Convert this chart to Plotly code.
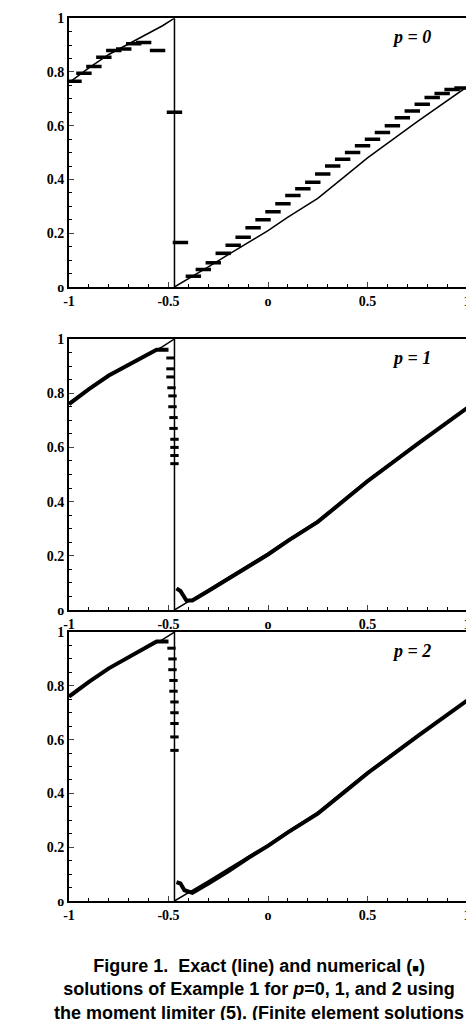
import plotly.graph_objects as go

# exact solution pieces
exact_left_x = [-1.0, -0.9, -0.8, -0.7, -0.6, -0.53, -0.47]
exact_left_y = [0.76, 0.815, 0.865, 0.905, 0.945, 0.972, 1.0]
exact_right_x = [-0.47, -0.4, -0.3, -0.2, -0.1, 0.0, 0.1, 0.25, 0.4, 0.5, 0.75, 1.0]
exact_right_y = [0.0, 0.03, 0.075, 0.12, 0.165, 0.21, 0.26, 0.33, 0.42, 0.48, 0.615, 0.745]
jump_x = [-0.47, -0.47]
jump_y = [0.0, 1.0]

# p=0 cell averages
p0_x = [-0.975, -0.925, -0.875, -0.825, -0.775, -0.725, -0.675, -0.625, -0.555,
        -0.47, -0.44,
        -0.375, -0.325, -0.275, -0.225, -0.175, -0.125, -0.075, -0.025, 0.025, 0.075,
        0.125, 0.175, 0.225, 0.275, 0.325, 0.375, 0.425, 0.475, 0.525, 0.575,
        0.625, 0.675, 0.725, 0.775, 0.825, 0.875, 0.925, 0.975]
p0_y = [0.765, 0.795, 0.82, 0.855, 0.88, 0.885, 0.905, 0.91, 0.88,
        0.65, 0.165,
        0.04, 0.065, 0.09, 0.125, 0.155, 0.185, 0.22, 0.25, 0.28, 0.31,
        0.34, 0.365, 0.39, 0.42, 0.45, 0.475, 0.5, 0.525, 0.55, 0.575,
        0.6, 0.63, 0.655, 0.68, 0.705, 0.72, 0.735, 0.74]

# p=1 numerical
p1_line_x = [-1.0, -0.9, -0.8, -0.7, -0.6, -0.56, -0.5]
p1_line_y = [0.76, 0.815, 0.865, 0.905, 0.945, 0.96, 0.96]
p1_dot_x = [-0.49, -0.49, -0.49, -0.485, -0.48, -0.48, -0.475, -0.475, -0.47, -0.47, -0.47, -0.47]
p1_dot_y = [0.93, 0.89, 0.86, 0.82, 0.79, 0.75, 0.71, 0.67, 0.63, 0.60, 0.57, 0.54]
p1_right_x = [-0.46, -0.44, -0.41, -0.38, -0.3, -0.2, -0.1, 0.0, 0.1, 0.25, 0.4, 0.5, 0.75, 1.0]
p1_right_y = [0.08, 0.07, 0.035, 0.035, 0.07, 0.115, 0.16, 0.205, 0.255, 0.325, 0.415, 0.475, 0.612, 0.745]

# p=2 numerical
p2_line_x = [-1.0, -0.9, -0.8, -0.7, -0.6, -0.56, -0.5]
p2_line_y = [0.76, 0.815, 0.865, 0.905, 0.945, 0.965, 0.965]
p2_dot_x = [-0.485, -0.48, -0.48, -0.475, -0.475, -0.47, -0.47, -0.47, -0.47, -0.47]
p2_dot_y = [0.94, 0.90, 0.86, 0.82, 0.78, 0.74, 0.70, 0.66, 0.61, 0.56]
p2_right_x = [-0.46, -0.44, -0.42, -0.38, -0.3, -0.2, -0.1, 0.0, 0.1, 0.25, 0.4, 0.5, 0.75, 1.0]
p2_right_y = [0.07, 0.065, 0.04, 0.03, 0.065, 0.11, 0.16, 0.205, 0.255, 0.325, 0.415, 0.475, 0.612, 0.745]

xticks = [-1, -0.5, 0, 0.5, 1]
xtick_text = ["-1", "-0.5", "o", "0.5", "1"]
yticks = [0, 0.2, 0.4, 0.6, 0.8, 1]
ytick_text = ["o", "0.2", "0.4", "0.6", "0.8", "1"]
labels = ["p = 0", "p = 1", "p = 2"]

domains = [[0.7265, 0.990], [0.4098, 0.6755], [0.1245, 0.3882]]
fig = go.Figure()
serif = dict(family="Liberation Serif", size=14, color="black", weight="bold")


def exact(ax):
    for xs, ys in [(exact_left_x, exact_left_y), (exact_right_x, exact_right_y), (jump_x, jump_y)]:
        fig.add_trace(go.Scatter(x=xs, y=ys, mode="lines", line=dict(color="black", width=1.5),
                                 xaxis="x" + ax, yaxis="y" + ax, showlegend=False))


for i in range(3):
    ax = "" if i == 0 else str(i + 1)
    exact(ax)

fig.add_trace(go.Scatter(x=p0_x, y=p0_y, mode="markers", xaxis="x", yaxis="y",
                         marker=dict(symbol="line-ew-open", size=11, color="black",
                                     line=dict(width=3.5, color="black")),
                         showlegend=False))

for ax, lx, ly, dx, dy, rx, ry in [("2", p1_line_x, p1_line_y, p1_dot_x, p1_dot_y, p1_right_x, p1_right_y),
                                   ("3", p2_line_x, p2_line_y, p2_dot_x, p2_dot_y, p2_right_x, p2_right_y)]:
    fig.add_trace(go.Scatter(x=lx, y=ly, mode="lines", line=dict(color="black", width=4),
                             xaxis="x" + ax, yaxis="y" + ax, showlegend=False))
    fig.add_trace(go.Scatter(x=rx, y=ry, mode="lines", line=dict(color="black", width=4),
                             xaxis="x" + ax, yaxis="y" + ax, showlegend=False))
    fig.add_trace(go.Scatter(x=dx, y=dy, mode="markers", xaxis="x" + ax, yaxis="y" + ax,
                             marker=dict(symbol="line-ew-open", size=6, color="black",
                                         line=dict(width=3, color="black")),
                             showlegend=False))

layout = dict(width=474, height=1020, margin=dict(l=0, r=0, t=0, b=0),
              plot_bgcolor="white", paper_bgcolor="white")
for i in range(3):
    sfx = "" if i == 0 else str(i + 1)
    layout["xaxis" + sfx] = dict(domain=[0.1287, 0.9684], range=[-1, 1], anchor="y" + sfx,
                                 tickvals=xticks, ticktext=xtick_text, ticks="inside", ticklen=5,
                                 showgrid=False, zeroline=False, showline=True, mirror=True,
                                 linecolor="black", linewidth=2, tickfont=serif,
                                 minor=dict(dtick=0.1, ticks="inside", ticklen=3, tickcolor="black"),
                                 automargin=False)
    layout["yaxis" + sfx] = dict(domain=domains[i], range=[0, 1], anchor="x" + sfx,
                                 tickvals=yticks, ticktext=ytick_text, ticks="inside", ticklen=5,
                                 showgrid=False, zeroline=False, showline=True, mirror=True,
                                 linecolor="black", linewidth=2, tickfont=serif,
                                 minor=dict(dtick=0.05, ticks="inside", ticklen=3, tickcolor="black"),
                                 automargin=False)
fig.update_layout(**layout)

for i, lab in enumerate(labels):
    sfx = "" if i == 0 else str(i + 1)
    fig.add_annotation(x=0.72, y=0.93, xref="x" + sfx, yref="y" + sfx, text="<b><i>" + lab + "</i></b>",
                       showarrow=False, font=dict(family="Liberation Serif", size=18, color="black"))

caption = ("<b>Figure 1.  Exact (line) and numerical (<span style='font-size:11px'>■</span>)<br>"
           "solutions of Example 1 for <i>p</i>=0, 1, and 2 using<br>"
           "the moment limiter (5). (Finite element solutions</b>")
fig.add_annotation(x=0.53, y=0.003, xref="paper", yref="paper", xanchor="center", yanchor="bottom",
                   text=caption, showarrow=False, align="center",
                   font=dict(family="Liberation Sans", size=18, color="black"))

fig.write_html("out.html")
